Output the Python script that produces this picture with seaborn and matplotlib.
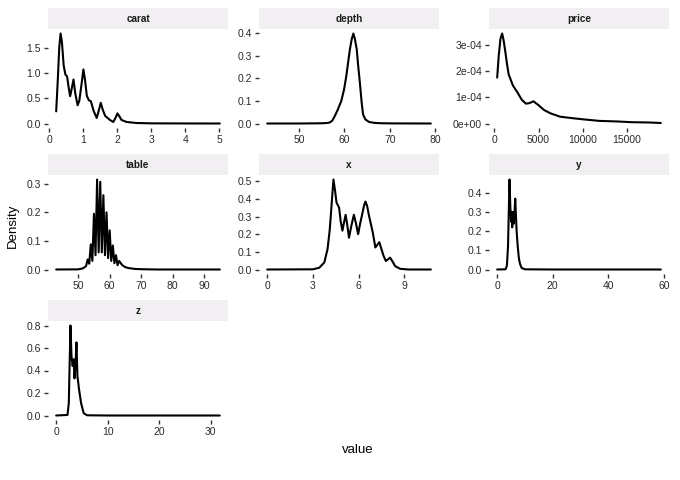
import matplotlib
matplotlib.use("Agg")
import matplotlib.pyplot as plt
import pandas as pd
import seaborn as sns

# ---------------- data ----------------
variables = ["carat", "depth", "price", "table", "x", "y", "z"]

carat_value = [0.2, 0.25, 0.29, 0.33, 0.37, 0.42, 0.47, 0.52, 0.57, 0.61, 0.66, 0.71, 0.76,
               0.83, 0.88, 0.94, 1.0, 1.05, 1.1, 1.16, 1.22, 1.3, 1.39, 1.45, 1.51, 1.57,
               1.64, 1.78, 1.88, 1.95, 2.0, 2.06, 2.12, 2.27, 2.56, 3.0, 4.0, 5.01]
carat_density = [0.24, 0.9, 1.5, 1.78, 1.6, 1.15, 0.97, 0.93, 0.7, 0.54, 0.7, 0.87, 0.6,
                 0.36, 0.45, 0.75, 1.07, 0.85, 0.55, 0.46, 0.44, 0.25, 0.11, 0.25, 0.41, 0.27,
                 0.15, 0.07, 0.03, 0.12, 0.2, 0.14, 0.07, 0.03, 0.01, 0.003, 0.001, 0.0]

depth_value = [43, 50, 55, 56, 56.7, 57.3, 57.8, 58.5, 59.3, 59.9, 60.4, 60.8, 61.2, 61.6,
               61.96, 62.3, 62.7, 63.0, 63.4, 63.8, 64.1, 64.6, 65.4, 66.5, 67.6, 70, 79]
depth_density = [0.0, 0.0, 0.001, 0.002, 0.004, 0.012, 0.03, 0.06, 0.10, 0.15, 0.21, 0.27,
                 0.33, 0.375, 0.40, 0.375, 0.33, 0.26, 0.18, 0.09, 0.04, 0.018, 0.007, 0.003,
                 0.0015, 0.0005, 0.0]

price_value = [326, 500, 700, 885, 1050, 1250, 1450, 1620, 2100, 2660, 3100, 3580, 3950,
               4430, 4940, 5610, 6350, 7450, 8930, 10040, 11880, 13730, 15570, 17400, 18823]
price_density = [1.76e-4, 2.6e-4, 3.25e-4, 3.45e-4, 3.2e-4, 2.74e-4, 2.25e-4, 1.89e-4,
                 1.46e-4, 1.17e-4, 0.91e-4, 0.76e-4, 0.78e-4, 0.85e-4, 0.72e-4, 0.52e-4,
                 0.39e-4, 0.26e-4, 0.2e-4, 0.16e-4, 0.10e-4, 0.08e-4, 0.05e-4, 0.04e-4,
                 0.02e-4]

table_value = [43, 50, 51.5, 52.5, 53, 53.5, 54, 54.5, 55, 55.5, 56, 56.5, 57, 57.5, 58, 58.5,
               59, 59.5, 60, 60.5, 61, 61.5, 62, 62.5, 63, 64, 65, 66, 68, 70, 75, 95]
table_density = [0.0, 0.0005, 0.004, 0.012, 0.035, 0.02, 0.088, 0.03, 0.195, 0.05, 0.315, 0.06,
                 0.307, 0.06, 0.26, 0.05, 0.2, 0.04, 0.137, 0.03, 0.084, 0.022, 0.05, 0.015,
                 0.03, 0.015, 0.008, 0.005, 0.002, 0.001, 0.0, 0.0]

x_value = [0, 3.0, 3.42, 3.75, 3.96, 4.1, 4.18, 4.28, 4.35, 4.45, 4.55, 4.72, 4.83, 4.94,
           5.05, 5.15, 5.26, 5.37, 5.53, 5.69, 5.83, 5.97, 6.1, 6.23, 6.35, 6.45, 6.56, 6.67,
           6.93, 7.1, 7.23, 7.36, 7.5, 7.64, 7.79, 7.93, 8.07, 8.23, 8.4, 8.72, 9.26, 10.74]
x_density = [0.0, 0.001, 0.01, 0.04, 0.115, 0.22, 0.31, 0.43, 0.51, 0.45, 0.38, 0.35, 0.27,
             0.22, 0.27, 0.31, 0.25, 0.18, 0.25, 0.31, 0.26, 0.20, 0.26, 0.31, 0.36, 0.385,
             0.36, 0.31, 0.21, 0.125, 0.14, 0.155, 0.115, 0.077, 0.048, 0.058, 0.067, 0.045,
             0.019, 0.004, 0.0, 0.0]

y_value = [0, 3.0, 3.5, 3.9, 4.2, 4.45, 4.7, 5.0, 5.2, 5.4, 5.7, 6.0, 6.25, 6.5, 6.7, 7.0,
           7.4, 7.8, 8.2, 8.8, 10, 20, 58.9]
y_density = [0.0, 0.001, 0.02, 0.12, 0.32, 0.47, 0.34, 0.25, 0.30, 0.22, 0.30, 0.24, 0.30,
             0.37, 0.30, 0.2, 0.12, 0.06, 0.03, 0.008, 0.001, 0.0, 0.0]

z_value = [0, 2.2, 2.45, 2.65, 2.77, 2.97, 3.2, 3.4, 3.55, 3.75, 3.94, 4.13, 4.45, 4.84,
           5.35, 6.0, 10, 31.8]
z_density = [0.0, 0.005, 0.11, 0.53, 0.80, 0.53, 0.44, 0.50, 0.33, 0.44, 0.65, 0.35, 0.23,
             0.11, 0.02, 0.002, 0.0, 0.0]

x_ticks = {
    "carat": [0, 1, 2, 3, 4, 5],
    "depth": [50, 60, 70, 80],
    "price": [0, 5000, 10000, 15000],
    "table": [50, 60, 70, 80, 90],
    "x": [0, 3, 6, 9],
    "y": [0, 20, 40, 60],
    "z": [0, 10, 20, 30],
}
y_ticks = {
    "carat": [0.0, 0.5, 1.0, 1.5],
    "depth": [0.0, 0.1, 0.2, 0.3, 0.4],
    "price": [0.0, 1e-4, 2e-4, 3e-4],
    "table": [0.0, 0.1, 0.2, 0.3],
    "x": [0.0, 0.1, 0.2, 0.3, 0.4, 0.5],
    "y": [0.0, 0.1, 0.2, 0.3, 0.4],
    "z": [0.0, 0.2, 0.4, 0.6, 0.8],
}
y_tick_labels = {
    "carat": ["0.0", "0.5", "1.0", "1.5"],
    "depth": ["0.0", "0.1", "0.2", "0.3", "0.4"],
    "price": ["0e+00", "1e-04", "2e-04", "3e-04"],
    "table": ["0.0", "0.1", "0.2", "0.3"],
    "x": ["0.0", "0.1", "0.2", "0.3", "0.4", "0.5"],
    "y": ["0.0", "0.1", "0.2", "0.3", "0.4"],
    "z": ["0.0", "0.2", "0.4", "0.6", "0.8"],
}

series = {
    "carat": (carat_value, carat_density),
    "depth": (depth_value, depth_density),
    "price": (price_value, price_density),
    "table": (table_value, table_density),
    "x": (x_value, x_density),
    "y": (y_value, y_density),
    "z": (z_value, z_density),
}
frames = []
for name in variables:
    v, d = series[name]
    frames.append(pd.DataFrame({"variable": name, "value": v, "density": d}))
df = pd.concat(frames, ignore_index=True)

# ---------------- styling ----------------
sns.set_theme(style="white")
plt.rcParams["font.family"] = ["Liberation Sans", "DejaVu Sans"]

W, H = 680, 480
fig = plt.figure(figsize=(W / 100, H / 100), dpi=100)
fig.patch.set_facecolor("white")

col_left = [48, 259, 489]
panel_w = 180
row_top = [29, 175, 321]
panel_h = 99
strip_h = 21
strip_color = "#F2EFF3"

for i, name in enumerate(variables):
    r, c = divmod(i, 3)
    ax = fig.add_axes([col_left[c] / W, 1 - (row_top[r] + panel_h) / H,
                       panel_w / W, panel_h / H])
    sub = df[df["variable"] == name]
    sns.lineplot(data=sub, x="value", y="density", ax=ax, color="black",
                 linewidth=1.5, estimator=None)
    xmin, xmax = sub["value"].min(), sub["value"].max()
    pad = (xmax - xmin) * 0.05
    ax.set_xlim(xmin - pad, xmax + pad)
    ymax = sub["density"].max()
    ax.set_ylim(-ymax * 0.05, ymax * 1.05)
    ax.set_xticks(x_ticks[name])
    ax.set_xticklabels([str(t) for t in x_ticks[name]])
    ax.set_yticks(y_ticks[name])
    ax.set_yticklabels(y_tick_labels[name])
    ax.set_xlabel("")
    ax.set_ylabel("")
    for s in ax.spines.values():
        s.set_visible(False)
    ax.set_facecolor("white")
    ax.grid(False)
    ax.tick_params(bottom=True, left=True, length=3, width=1.0, color="#333333",
                   labelsize=7.5, labelcolor="#2B2B2B", pad=2)

    sax = fig.add_axes([col_left[c] / W, 1 - row_top[r] / H,
                        panel_w / W, strip_h / H])
    sax.set_facecolor(strip_color)
    sax.set_xticks([])
    sax.set_yticks([])
    for s in sax.spines.values():
        s.set_visible(False)
    sax.text(0.5, 0.5, name, ha="center", va="center", fontsize=7.2,
             fontweight="bold", color="#1A1A1A", transform=sax.transAxes)

fig.text(358 / W, 1 - 450 / H, "value", ha="center", va="center", fontsize=9.5,
         color="black")
fig.text(13 / W, 1 - 226 / H, "Density", ha="center", va="center", fontsize=9.5,
         rotation=90, color="black")

fig.savefig("out.png", dpi=100)
